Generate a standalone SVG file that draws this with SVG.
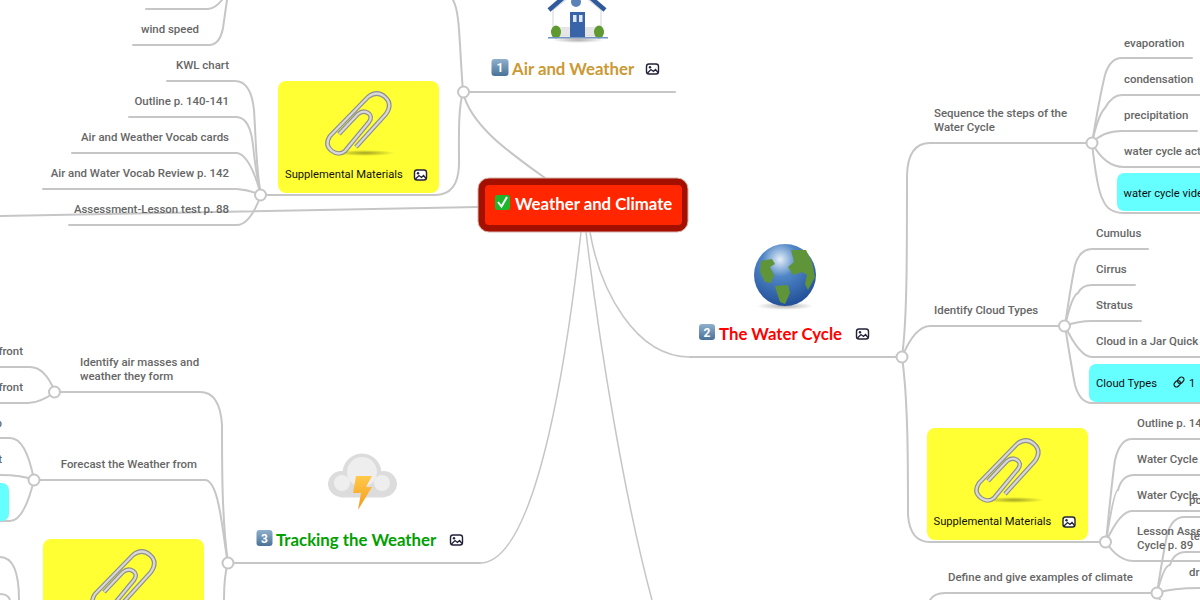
<svg xmlns="http://www.w3.org/2000/svg" width="1200" height="600" viewBox="0 0 1200 600">
<style>
text{font-family:"Roboto","Liberation Sans",sans-serif}
.c{fill:none;stroke:#c6c6c6;stroke-width:2;stroke-linecap:round}
.t{fill:none;stroke:#c6c6c6;stroke-width:1.5}
.n{fill:#fff;stroke:#c6c6c6;stroke-width:2}
.l{font-size:11.45px;font-weight:500;fill:#666;transform:translateY(-.6px)}
.e{text-anchor:end}
.k{font-size:11.2px;fill:#111;transform:translateY(-.3px)}
.h{font-size:16.800px;font-weight:700;font-family:"Lato","Liberation Sans",sans-serif}
.y{fill:#ffff33}
.b{fill:#66ffff}
.d{font-size:12px;font-weight:700;fill:#fff;text-anchor:middle}
</style>
<defs>
<linearGradient id="kc" x1="0" y1="0" x2="0" y2="1"><stop offset="0" stop-color="#8fb0cc"/><stop offset="1" stop-color="#4a7298"/></linearGradient>
<radialGradient id="gl" cx=".42" cy=".25" r=".8"><stop offset="0" stop-color="#e4eef8"/><stop offset=".35" stop-color="#4f86c6"/><stop offset="1" stop-color="#1e4a94"/></radialGradient>
<radialGradient id="sh"><stop offset="0" stop-color="#999" stop-opacity=".8"/><stop offset="1" stop-color="#999" stop-opacity="0"/></radialGradient>
<radialGradient id="psh"><stop offset="0" stop-color="#8c8c20" stop-opacity=".8"/><stop offset="1" stop-color="#8c8c20" stop-opacity="0"/></radialGradient>
<linearGradient id="bolt" x1="0" y1="0" x2="0" y2="1"><stop offset="0" stop-color="#ffc94a"/><stop offset="1" stop-color="#f59a1c"/></linearGradient>
<g id="clip">
<ellipse cx="87" cy="72" rx="30" ry="3" fill="url(#psh)"/>
<path d="M78 66L108 33Q115 23 107 16Q99 9 90 16L52 55Q46 64 54 70Q61 75 67 70L91 41Q95 35 90 32Q85 29 80 33L61 53" fill="none" stroke="#8e8e8e" stroke-width="4.6" stroke-linejoin="round"/>
<path d="M78 66L108 33Q115 23 107 16Q99 9 90 16L52 55Q46 64 54 70Q61 75 67 70L91 41Q95 35 90 32Q85 29 80 33L61 53" fill="none" stroke="#d8d8d8" stroke-width="2.2" stroke-linejoin="round"/>
</g>
<g id="img">
<rect x="-6" y="-5" width="12" height="10" rx="2.5" fill="#fff" stroke="#222238" stroke-width="1.4"/>
<circle cx="-2.5" cy="-1.8" r="1.2" fill="#222238"/>
<path d="M-5 4L-1.5 .5L1 2.5L3 .5L5.500 3.500" fill="none" stroke="#222238" stroke-width="1.3"/>
</g>
</defs>
<rect width="1200" height="600" fill="#fff"/>
<g id="connectors">
<path class="c" d="M545 178C510 153 470 125 463 92"/>
<path class="c" d="M463 92H675"/>
<path class="c" d="M453 0C460 12 459 40 463 92"/>
<path class="c" d="M463 92C458 110 459 135 459 165Q458 195 435 195H261"/>
<path class="c" d="M167 81H235Q251 81 254 110C256 140 256 170 261 195"/>
<path class="c" d="M129 117H237Q250 118 253 145Q256 175 261 195"/>
<path class="c" d="M72 153H237Q250 155 261 195"/>
<path class="c" d="M43 189H237Q250 190 261 195"/>
<path class="c" d="M69 225H237Q250 225 261 195"/>
<path class="c" d="M478 207L0 216"/>
<path class="c" d="M146 9H208Q216 8 222 0"/>
<path class="c" d="M133 45H210Q220 44 223 28L227 0"/>
<path class="t" d="M590 232C600 290 635 357 690 357"/>
<path class="c" d="M690 357H902"/>
<path class="c" d="M902 357C907 320 907 260 907 175Q908 143 930 143H1092"/>
<path class="c" d="M1092 143Q1100 95 1105 75Q1110 58 1122 58H1192"/>
<path class="c" d="M1092 143Q1098 115 1105 108Q1112 95 1122 95H1200"/>
<path class="c" d="M1092 143Q1103 131 1122 131H1197"/>
<path class="c" d="M1092 143Q1105 167 1124 167H1200"/>
<path class="c" d="M1092 143Q1097 190 1103 200Q1108 213 1124 213H1200"/>
<path class="c" d="M902 357Q915 326 930 326H1065"/>
<path class="c" d="M1065 326Q1070 290 1075 265Q1080 249 1092 249H1148"/>
<path class="c" d="M1065 326Q1072 295 1078 293Q1082 285 1092 285H1135"/>
<path class="c" d="M1065 326Q1078 321 1092 321H1141"/>
<path class="c" d="M1065 326Q1080 357 1092 357H1200"/>
<path class="c" d="M1065 326Q1072 370 1075 385Q1080 403 1092 403H1200"/>
<path class="c" d="M902 357C908 400 908 460 908 515Q910 542 930 542H1106"/>
<path class="c" d="M1106 542Q1112 480 1115 460Q1120 439 1132 439H1200"/>
<path class="c" d="M1106 542Q1114 490 1118 490Q1122 475 1134 475H1200"/>
<path class="c" d="M1106 542Q1120 511 1132 511H1200"/>
<path class="c" d="M1106 542Q1118 561 1134 561H1200"/>
<path class="c" d="M930 600Q934 593 945 593H1157"/>
<path class="c" d="M1157 593Q1162 560 1167 535Q1172 517 1184 517H1200"/>
<path class="c" d="M1157 593Q1164 565 1170 565Q1174 552 1186 552H1200"/>
<path class="c" d="M1157 593Q1172 588 1200 588"/>
<path class="c" d="M1157 593L1160 600"/>
<path class="t" d="M581 232C570 330 540 563 480 563"/>
<path class="c" d="M480 563H228"/>
<path class="t" d="M586 232C600 350 625 500 652 600"/>
<path class="c" d="M228 563C222 520 222 470 222 425Q220 392 200 392H55"/>
<path class="c" d="M55 392Q45 367 30 367H0"/>
<path class="c" d="M55 392Q40 403 28 403H0"/>
<path class="c" d="M228 563C223 540 220 480 205 480H34"/>
<path class="c" d="M34 480Q26 438 10 438H0"/>
<path class="c" d="M34 480Q22 475 0 475"/>
<path class="c" d="M34 480Q24 521 10 521H0"/>
<path class="c" d="M228 563Q224 575 224 600"/>
<path class="c" d="M0 557Q19 557 19 600"/>
<path class="c" d="M0 594Q8 594 10 600"/>
<circle class="n" cx="463.500" cy="92" r="5.500"/><circle class="n" cx="260.500" cy="195" r="5.500"/>
<circle class="n" cx="902" cy="357" r="5.500"/><circle class="n" cx="1092" cy="143" r="5.500"/>
<circle class="n" cx="1064.500" cy="326" r="5.500"/><circle class="n" cx="1105.500" cy="542" r="5.500"/>
<circle class="n" cx="1157" cy="593" r="5.500"/><circle class="n" cx="228" cy="563" r="5.500"/>
<circle class="n" cx="54.500" cy="392" r="5.500"/><circle class="n" cx="34" cy="480" r="5.500"/>
</g>
<g id="root">
<rect x="478" y="178" width="210" height="54" rx="11" fill="#a31000" stroke="#d8b0a8"/>
<rect x="485" y="185" width="197" height="40" rx="4" fill="#ff2600"/>
<rect x="495" y="195" width="15" height="15" rx="2.500" fill="#1cb52c"/>
<path d="M498 202L501.500 206.500L507 197" fill="none" stroke="#fff" stroke-width="2"/>
<text x="515" y="210" class="h" fill="#fff">Weather and Climate</text>
</g>
<g id="air">
<path d="M553 10L577 -9L601 10V36H553Z" fill="#fff" stroke="#d5d5d5"/>
<path d="M549 10L577 -14L605 10" fill="none" stroke="#2f5a9c" stroke-width="4.500"/>
<circle cx="576" cy="2" r="5" fill="#5b82b8"/>
<rect x="553" y="27" width="48" height="9" fill="#dcdcdc" opacity=".7"/>
<rect x="570" y="12" width="15" height="25" fill="#3a64a8"/>
<rect x="573" y="15" width="3.500" height="7" fill="#dfe9f5"/><rect x="579" y="15" width="3.500" height="7" fill="#dfe9f5"/>
<ellipse cx="556" cy="32" rx="5" ry="6.500" fill="#5f9a30"/><ellipse cx="599" cy="32" rx="5" ry="6.500" fill="#5f9a30"/>
<rect x="548" y="37" width="60" height="1.500" fill="#6f94c8"/>
<ellipse cx="578" cy="40" rx="26" ry="3" fill="url(#sh)"/>
<rect x="491.500" y="59" width="17" height="17" rx="3" fill="url(#kc)"/>
<text x="500" y="72" class="d">1</text>
<text x="512" y="74.500" class="h" fill="#cc9933">Air and Weather</text>
<use href="#img" x="652.500" y="69"/>
</g>
<g id="air-supp">
<rect class="y" x="278" y="81" width="161" height="112" rx="8"/>
<use href="#clip" x="278" y="81"/>
<text x="285" y="178" class="k">Supplemental Materials</text>
<use href="#img" x="420.500" y="175"/>
</g>
<g id="air-labels">
<text x="199" y="34" class="l e">wind speed</text>
<text x="229" y="70" class="l e">KWL chart</text>
<text x="229" y="106" class="l e">Outline p. 140-141</text>
<text x="229" y="142" class="l e">Air and Weather Vocab cards</text>
<text x="229" y="178" class="l e">Air and Water Vocab Review p. 142</text>
<text x="229" y="214" class="l e">Assessment-Lesson test p. 88</text>
</g>
<g id="water">
<ellipse cx="785" cy="306" rx="28" ry="4" fill="url(#sh)"/>
<circle cx="785" cy="275" r="31" fill="url(#gl)"/>
<path d="M761 261L772 259L775 264L770 267L774 275L771 283L765 282L760 272Z M775 286L788 285L790 293L785 304L780 302L777 293Z M791 250L806 250L812 262L815 277L808 290L805 284L807 275L802 272L793 275L788 267L794 262Z" fill="#5f9438"/>
<rect x="699" y="324" width="16" height="16" rx="3" fill="url(#kc)"/>
<text x="707" y="336.500" class="d">2</text>
<text x="719" y="339.500" class="h" fill="#ff0000">The Water Cycle</text>
<use href="#img" x="862.500" y="334"/>
</g>
<g id="water-seq">
<text x="934" y="118" class="l">Sequence the steps of the</text>
<text x="934" y="132" class="l">Water Cycle</text>
<text x="1124" y="48" class="l">evaporation</text>
<text x="1124" y="84" class="l">condensation</text>
<text x="1124" y="120" class="l">precipitation</text>
<text x="1124" y="156" class="l">water cycle act</text>
<rect class="b" x="1117" y="173" width="90" height="38" rx="7"/>
<text x="1123.500" y="197" class="k">water cycle vide</text>
</g>
<g id="water-cloud">
<text x="934" y="315" class="l">Identify Cloud Types</text>
<text x="1096" y="238" class="l">Cumulus</text>
<text x="1096" y="274" class="l">Cirrus</text>
<text x="1096" y="310" class="l">Stratus</text>
<text x="1096" y="346" class="l">Cloud in a Jar Quick</text>
<rect class="b" x="1089" y="364" width="120" height="38" rx="7"/>
<text x="1096" y="387" class="k">Cloud Types</text>
<g transform="translate(1179 382) rotate(-45)"><rect x="-6" y="-2.500" width="7" height="5" rx="2.500" fill="none" stroke="#222" stroke-width="1.200"/><rect x="-1" y="-2.500" width="7" height="5" rx="2.500" fill="none" stroke="#222" stroke-width="1.200"/></g>
<text x="1189" y="387" class="k">1</text>
</g>
<g id="water-supp">
<rect class="y" x="927" y="428" width="161" height="112" rx="8"/>
<use href="#clip" x="927" y="428"/>
<text x="933.500" y="525" class="k">Supplemental Materials</text>
<use href="#img" x="1069" y="522"/>
<text x="1137" y="428" class="l">Outline p. 14</text>
<text x="1137" y="464" class="l">Water Cycle</text>
<text x="1137" y="500" class="l">Water Cycle</text>
<text x="1137" y="536" class="l">Lesson Asse</text>
<text x="1137" y="550" class="l">Cycle p. 89</text>
<text x="948" y="582" class="l">Define and give examples of climate</text>
<text x="1189" y="505" class="l">pc</text>
<text x="1190" y="541" class="l">te</text>
<text x="1189" y="577" class="l">dr</text>
</g>
<g id="tracking">
<g fill="#dcdcdc" stroke="#dcdcdc"><circle cx="341" cy="484" r="12.500"/><circle cx="362" cy="473" r="19"/><circle cx="384" cy="484" r="12.500"/><rect x="341" y="480" width="43" height="17"/></g>
<g fill="#eeeeee"><circle cx="362" cy="472" r="15"/><circle cx="342" cy="483" r="8"/><circle cx="382" cy="483" r="8"/></g>
<path d="M356 476H372L366 487H372L358 510L361 493H353Z" fill="url(#bolt)"/>
<rect x="256.500" y="530" width="16" height="16" rx="3" fill="url(#kc)"/>
<text x="264.500" y="542.500" class="d">3</text>
<text x="276" y="545.500" class="h" fill="#00a000">Tracking the Weather</text>
<use href="#img" x="456.500" y="540"/>
</g>
<g id="track-labels">
<text x="80" y="367" class="l">Identify air masses and</text>
<text x="80" y="381" class="l">weather they form</text>
<text x="197" y="469" class="l e">Forecast the Weather from</text>
<text x="23" y="356" class="l e">front</text>
<text x="23" y="392" class="l e">front</text>
<text x="2" y="428" class="l e">p</text>
<text x="2" y="464" class="l e">t</text>
<rect class="b" x="-9" y="483" width="18" height="38" rx="7"/>
<rect class="y" x="43" y="539" width="161" height="112" rx="8"/>
<use href="#clip" x="43" y="539"/>
</g>
</svg>
